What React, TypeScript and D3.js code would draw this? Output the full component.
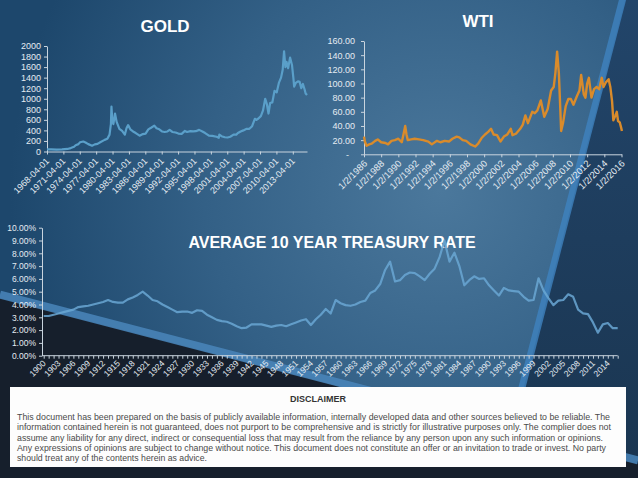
import React, { useEffect, useRef } from 'react';
import * as d3 from 'd3';

// gold, monthly-ish readings (decimal year, USD/oz)
const goldYears = [
  1968.25, 1969, 1970, 1971, 1972, 1972.6, 1973.2, 1973.5, 1974, 1974.3, 1974.9, 1975.3, 1975.8, 1976.5,
  1977, 1977.5, 1978, 1978.8, 1979.3, 1979.7, 1979.95, 1980.05, 1980.2, 1980.4, 1980.7, 1981, 1981.5,
  1982, 1982.5, 1982.8, 1983.1, 1983.5, 1984, 1984.5, 1985.2, 1985.8, 1986.3, 1986.8, 1987.3, 1987.9,
  1988.3, 1988.8, 1989.3, 1989.8, 1990.3, 1990.7, 1991.2, 1991.8, 1992.3, 1992.9, 1993.5, 1993.9, 1994.5,
  1995, 1995.5, 1996.1, 1996.7, 1997.2, 1997.9, 1998.5, 1999.3, 1999.7, 1999.8, 2000.2, 2000.8, 2001.3,
  2001.8, 2002.4, 2002.9, 2003.2, 2003.7, 2004.2, 2004.8, 2005.3, 2005.8, 2006.3, 2006.6, 2006.9, 2007.4,
  2007.8, 2008.2, 2008.5, 2008.8, 2009.1, 2009.5, 2009.9, 2010.3, 2010.7, 2011.1, 2011.4, 2011.65, 2011.9,
  2012.1, 2012.4, 2012.75, 2013.1, 2013.35, 2013.5, 2013.8, 2014.2, 2014.5, 2014.8, 2015.1, 2015.4, 2015.6,
  2015.85,
];
const goldPrices = [
  40, 42, 36, 40, 48, 65, 90, 120, 140, 175, 190, 170, 140, 110,
  135, 145, 175, 220, 240, 320, 520, 850, 600, 520, 720, 560, 430,
  390, 320, 440, 500, 420, 380, 350, 300, 330, 340, 420, 450, 490,
  440, 420, 380, 370, 380, 410, 370, 360, 340, 335, 390, 370, 385,
  380, 385, 410, 380, 350, 300, 295, 280, 260, 320, 290, 270, 265,
  280, 320, 320, 350, 380, 400, 430, 430, 480, 620, 600, 620, 670,
  780, 1000, 900, 720, 920, 930, 1150, 1120, 1300, 1400, 1550, 1900, 1600,
  1700, 1580, 1780, 1640, 1400, 1230, 1300, 1330, 1320, 1200, 1280, 1180, 1100,
  1070,
];
const goldTickLabels = [
  '1968-04-01', '1971-04-01', '1974-04-01', '1977-04-01', '1980-04-01', '1983-04-01', '1986-04-01',
  '1989-04-01', '1992-04-01', '1995-04-01', '1998-04-01', '2001-04-01', '2004-04-01', '2007-04-01',
  '2010-04-01', '2013-04-01',
];
const goldValueTicks = [0, 200, 400, 600, 800, 1000, 1200, 1400, 1600, 1800, 2000];

// WTI crude (decimal year, USD/bbl)
const wtiYears = [
  1986.0, 1986.1, 1986.3, 1986.6, 1986.9, 1987.3, 1987.6, 1988, 1988.5, 1988.8, 1989.2, 1989.6, 1990.0,
  1990.4, 1990.6, 1990.8, 1990.95, 1991.1, 1991.5, 1991.9, 1992.4, 1992.9, 1993.5, 1993.9, 1994.5, 1994.9,
  1995.4, 1995.9, 1996.3, 1996.8, 1997.1, 1997.5, 1997.9, 1998.4, 1998.95, 1999.3, 1999.7, 2000.1, 2000.5,
  2000.8, 2001.1, 2001.5, 2001.9, 2002.3, 2002.7, 2003.1, 2003.3, 2003.7, 2004.2, 2004.5, 2004.8, 2005.1,
  2005.6, 2005.9, 2006.2, 2006.6, 2007.0, 2007.4, 2007.8, 2008.1, 2008.3, 2008.5, 2008.7, 2008.85, 2008.97,
  2009.2, 2009.5, 2009.8, 2010.1, 2010.4, 2010.8, 2011.1, 2011.3, 2011.6, 2011.8, 2012.0, 2012.2, 2012.5,
  2012.8, 2013.1, 2013.4, 2013.7, 2013.9, 2014.2, 2014.5, 2014.7, 2014.9, 2015.05, 2015.3, 2015.45, 2015.6,
  2015.8, 2015.95, 2016.05,
];
const wtiPrices = [
  25, 18, 12, 14, 15, 19, 21, 17, 16, 14, 19, 20, 22,
  17, 28, 40, 28, 20, 21, 22, 21, 20, 18, 14, 19, 17,
  19, 18, 22, 25, 24, 20, 19, 14, 11, 15, 23, 28, 32,
  36, 28, 27, 18, 25, 28, 36, 27, 29, 36, 42, 55, 44,
  60, 58, 62, 76, 53, 64, 90, 95, 115, 145, 115, 70, 33,
  45, 68, 78, 78, 70, 82, 90, 112, 85, 80, 100, 108, 80,
  92, 95, 92, 108, 95, 102, 106, 95, 75, 48, 55, 60, 47,
  45, 38, 33,
];
const wtiTickLabels = [
  '1/2/1986', '1/2/1988', '1/2/1990', '1/2/1992', '1/2/1994', '1/2/1996', '1/2/1998', '1/2/2000',
  '1/2/2002', '1/2/2004', '1/2/2006', '1/2/2008', '1/2/2010', '1/2/2012', '1/2/2014', '1/2/2016',
];
const wtiValueTicks = [0, 20, 40, 60, 80, 100, 120, 140, 160];

// average 10 year treasury rate, one value per year from 1900
const treasuryFirstYear = 1900;
const treasuryRates = [
  3.1, 3.1, 3.2, 3.3, 3.4, 3.5, 3.6, 3.8, 3.85, 3.9,
  4.0, 4.1, 4.2, 4.35, 4.2, 4.15, 4.15, 4.4, 4.55, 4.75,
  5.0, 4.7, 4.35, 4.25, 4.0, 3.8, 3.6, 3.4, 3.45, 3.45,
  3.35, 3.55, 3.5, 3.2, 3.0, 2.8, 2.7, 2.65, 2.5, 2.3,
  2.15, 2.2, 2.45, 2.45, 2.45, 2.35, 2.25, 2.35, 2.4, 2.3,
  2.45, 2.6, 2.75, 2.85, 2.4, 2.85, 3.2, 3.65, 3.3, 4.35,
  4.1, 3.95, 3.9, 4.0, 4.2, 4.3, 4.9, 5.1, 5.6, 6.7,
  7.35, 5.8, 5.9, 6.3, 6.5, 6.45, 6.2, 5.9, 6.4, 6.8,
  7.7, 9.0, 7.35, 8.05, 7.0, 5.5, 5.9, 6.2, 6.0, 6.05,
  5.5, 5.1, 4.7, 5.3, 5.1, 5.05, 5.0, 4.6, 4.3, 4.35,
  6.05, 5.1, 4.5, 3.95, 4.3, 4.35, 4.8, 4.6, 3.6, 3.3,
  3.25, 2.6, 1.8, 2.45, 2.55, 2.15, 2.15,
];
const treasuryTickLabels = [
  '1900', '1903', '1906', '1909', '1912', '1915', '1918', '1921', '1924', '1927', '1930', '1933', '1936',
  '1939', '1942', '1945', '1948', '1951', '1954', '1957', '1960', '1963', '1966', '1969', '1972', '1975',
  '1978', '1981', '1984', '1987', '1990', '1993', '1996', '1999', '2002', '2005', '2008', '2011', '2014',
];
const treasuryValueTicks = [0, 1, 2, 3, 4, 5, 6, 7, 8, 9, 10];

const disclaimerLines = [
  'This document has been prepared on the basis of publicly available information, internally developed data and other sources believed to be reliable. The',
  'information contained herein is not guaranteed, does not purport to be comprehensive and is strictly for illustrative purposes only. The complier does not',
  'assume any liability for any direct, indirect or consequential loss that may result from the reliance by any person upon any such information or opinions.',
  'Any expressions of opinions are subject to change without notice. This document does not constitute an offer or an invitation to trade or invest. No party',
  'should treat any of the contents herein as advice.',
];
const disclaimerWidths = [593, 594, 586, 589, 190];

const FONT = "'Liberation Sans', Arial, sans-serif";
const W = 638;
const H = 478;

function styleAxis(g: d3.Selection<SVGGElement, unknown, null, undefined>, size: number) {
  g.select('.domain').attr('stroke', '#c9d4de').attr('stroke-width', 1);
  g.selectAll('.tick line').attr('stroke', '#c9d4de');
  g.selectAll('.tick text').attr('fill', '#e4ebf2').style('font-size', `${size}px`).style('font-family', FONT);
}

function rotateLabels(g: d3.Selection<SVGGElement, unknown, null, undefined>, dx: number, dy: number) {
  g.selectAll('.tick text')
    .attr('x', 0)
    .attr('y', 0)
    .attr('dy', '0.35em')
    .attr('text-anchor', 'end')
    .attr('transform', `translate(${dx},${dy}) rotate(-45)`);
}

const App: React.FC = () => {
  const svgRef = useRef<SVGSVGElement>(null);

  useEffect(() => {
    if (!svgRef.current) return;
    const svg = d3.select(svgRef.current);
    svg.selectAll('*').remove();

    // background
    const defs = svg.append('defs');
    const rg = defs
      .append('radialGradient')
      .attr('id', 'bg')
      .attr('gradientUnits', 'userSpaceOnUse')
      .attr('cx', 440)
      .attr('cy', 190)
      .attr('r', 430);
    rg.append('stop').attr('offset', 0).attr('stop-color', '#4b789c');
    rg.append('stop').attr('offset', 0.55).attr('stop-color', '#336086');
    rg.append('stop').attr('offset', 1).attr('stop-color', '#1d476c');

    const rightGrad = defs
      .append('linearGradient')
      .attr('id', 'rightBg')
      .attr('x1', 0)
      .attr('y1', 0)
      .attr('x2', 0)
      .attr('y2', 1);
    rightGrad.append('stop').attr('offset', 0).attr('stop-color', '#22456a');
    rightGrad.append('stop').attr('offset', 1).attr('stop-color', '#1a3550');

    svg.append('rect').attr('width', W).attr('height', H).attr('fill', 'url(#bg)');
    svg
      .append('polygon')
      .attr('points', '625,0 638,0 638,478 500,478')
      .attr('fill', 'url(#rightBg)');
    svg
      .append('line')
      .attr('x1', 623)
      .attr('y1', -2)
      .attr('x2', 498)
      .attr('y2', 480)
      .attr('stroke', '#3f83c0')
      .attr('stroke-width', 7)
      .attr('opacity', 0.8);
    svg
      .append('polygon')
      .attr('points', '0,298 638,464 638,478 0,478')
      .attr('fill', '#161f2c');
    svg
      .append('line')
      .attr('x1', 0)
      .attr('y1', 294.5)
      .attr('x2', 638)
      .attr('y2', 460.5)
      .attr('stroke', '#4a86bb')
      .attr('stroke-width', 8)
      .attr('opacity', 0.85);

    // GOLD
    const gx = d3.scaleLinear().domain([1968.25, 2015.85]).range([47, 307]);
    const gy = d3.scaleLinear().domain([0, 2000]).range([151.5, 46]);
    const gxAxis = svg
      .append('g')
      .attr('transform', `translate(0,${gy(0)})`)
      .call(
        d3
          .axisBottom(gx)
          .tickValues(goldTickLabels.map((l) => +l.slice(0, 4) + 0.25))
          .tickFormat((_, i) => goldTickLabels[i])
          .tickSize(3)
          .tickSizeOuter(0)
      );
    styleAxis(gxAxis, 9);
    rotateLabels(gxAxis, 0, 8);
    const gyAxis = svg
      .append('g')
      .attr('transform', `translate(${gx.range()[0]},0)`)
      .call(d3.axisLeft(gy).tickValues(goldValueTicks).tickSize(3).tickSizeOuter(0).tickFormat(d3.format('d')));
    styleAxis(gyAxis, 9);
    svg
      .append('path')
      .attr('d', d3.line<number>().x((_, i) => gx(goldYears[i])).y((d) => gy(d))(goldPrices) || '')
      .attr('fill', 'none')
      .attr('stroke', '#5a9fc9')
      .attr('stroke-width', 2.2)
      .attr('stroke-linejoin', 'round');
    svg
      .append('text')
      .attr('x', 165)
      .attr('y', 32)
      .attr('text-anchor', 'middle')
      .attr('fill', '#ffffff')
      .style('font', `bold 17px ${FONT}`)
      .text('GOLD');

    // WTI
    const wx = d3.scaleLinear().domain([1986, 2016]).range([364, 621.5]);
    const wy = d3.scaleLinear().domain([0, 160]).range([154.3, 41]);
    const wxAxis = svg
      .append('g')
      .attr('transform', `translate(0,${wy(0)})`)
      .call(
        d3
          .axisBottom(wx)
          .tickValues(wtiTickLabels.map((l) => +l.split('/')[2]))
          .tickFormat((_, i) => wtiTickLabels[i])
          .tickSize(3)
          .tickSizeOuter(0)
      );
    styleAxis(wxAxis, 9.4);
    rotateLabels(wxAxis, 1, 7.5);
    const wyAxis = svg
      .append('g')
      .attr('transform', `translate(${wx.range()[0]},0)`)
      .call(
        d3
          .axisLeft(wy)
          .tickValues(wtiValueTicks)
          .tickSize(3)
          .tickSizeOuter(0)
          .tickFormat((d) => (+d === 0 ? '-' : (+d).toFixed(2)))
      );
    styleAxis(wyAxis, 9);
    wyAxis.selectAll<SVGTextElement, number>('.tick text').attr('x', (d) => (d === 0 ? -15 : -9));
    svg
      .append('path')
      .attr('d', d3.line<number>().x((_, i) => wx(wtiYears[i])).y((d) => wy(d))(wtiPrices) || '')
      .attr('fill', 'none')
      .attr('stroke', '#d98b2b')
      .attr('stroke-width', 2.4)
      .attr('stroke-linejoin', 'round');
    svg
      .append('text')
      .attr('x', 478)
      .attr('y', 27)
      .attr('text-anchor', 'middle')
      .attr('fill', '#ffffff')
      .style('font', `bold 17px ${FONT}`)
      .text('WTI');

    // treasury
    const tYears = treasuryRates.map((_, i) => treasuryFirstYear + i);
    const tx = d3.scaleLinear().domain([treasuryFirstYear, d3.max(tYears) as number]).range([43.7, 617.7]);
    const ty = d3.scaleLinear().domain([0, 10]).range([355.7, 227.7]);
    const txAxis = svg
      .append('g')
      .attr('transform', `translate(0,${ty(0)})`)
      .call(
        d3
          .axisBottom(tx)
          .tickValues(tYears)
          .tickFormat((d) => (treasuryTickLabels.includes(String(d)) ? String(d) : ''))
          .tickSize(3)
          .tickSizeOuter(0)
      );
    txAxis.select('.domain').attr('d', `M42,0H${tx.range()[1]}`);
    styleAxis(txAxis, 8.5);
    rotateLabels(txAxis, 0, 6);
    const tyAxis = svg
      .append('g')
      .attr('transform', 'translate(42,0)')
      .call(
        d3
          .axisLeft(ty)
          .tickValues(treasuryValueTicks)
          .tickSize(3)
          .tickSizeOuter(0)
          .tickFormat((d) => `${(+d).toFixed(2)}%`)
      );
    styleAxis(tyAxis, 8.5);
    svg
      .append('text')
      .attr('x', 332)
      .attr('y', 248)
      .attr('text-anchor', 'middle')
      .attr('fill', '#ffffff')
      .style('font', `bold 16px ${FONT}`)
      .text('AVERAGE 10 YEAR TREASURY RATE');
    svg
      .append('path')
      .attr('d', d3.line<number>().x((_, i) => tx(tYears[i])).y((d) => ty(d))(treasuryRates) || '')
      .attr('fill', 'none')
      .attr('stroke', '#6aa7d3')
      .attr('stroke-opacity', 0.85)
      .attr('stroke-width', 2.2)
      .attr('stroke-linejoin', 'round');

    // disclaimer box
    svg.append('rect').attr('x', 10).attr('y', 387).attr('width', 616).attr('height', 80).attr('fill', '#fdfdfd');
    svg
      .append('text')
      .attr('x', 318)
      .attr('y', 402)
      .attr('text-anchor', 'middle')
      .attr('fill', '#333')
      .style('font', `bold 9px ${FONT}`)
      .text('DISCLAIMER');
    svg
      .selectAll('.disc')
      .data(disclaimerLines)
      .enter()
      .append('text')
      .attr('class', 'disc')
      .attr('x', 17)
      .attr('y', (_, i) => 420 + i * 10.35)
      .attr('fill', '#4a4a4a')
      .attr('textLength', (_, i) => disclaimerWidths[i])
      .attr('lengthAdjust', 'spacingAndGlyphs')
      .style('font', `8.6px ${FONT}`)
      .text((d) => d);
  }, []);

  return (
    <svg
      ref={svgRef}
      width={W}
      height={H}
      style={{ position: 'absolute', left: 0, top: 0, display: 'block' }}
    />
  );
};

export default App;
